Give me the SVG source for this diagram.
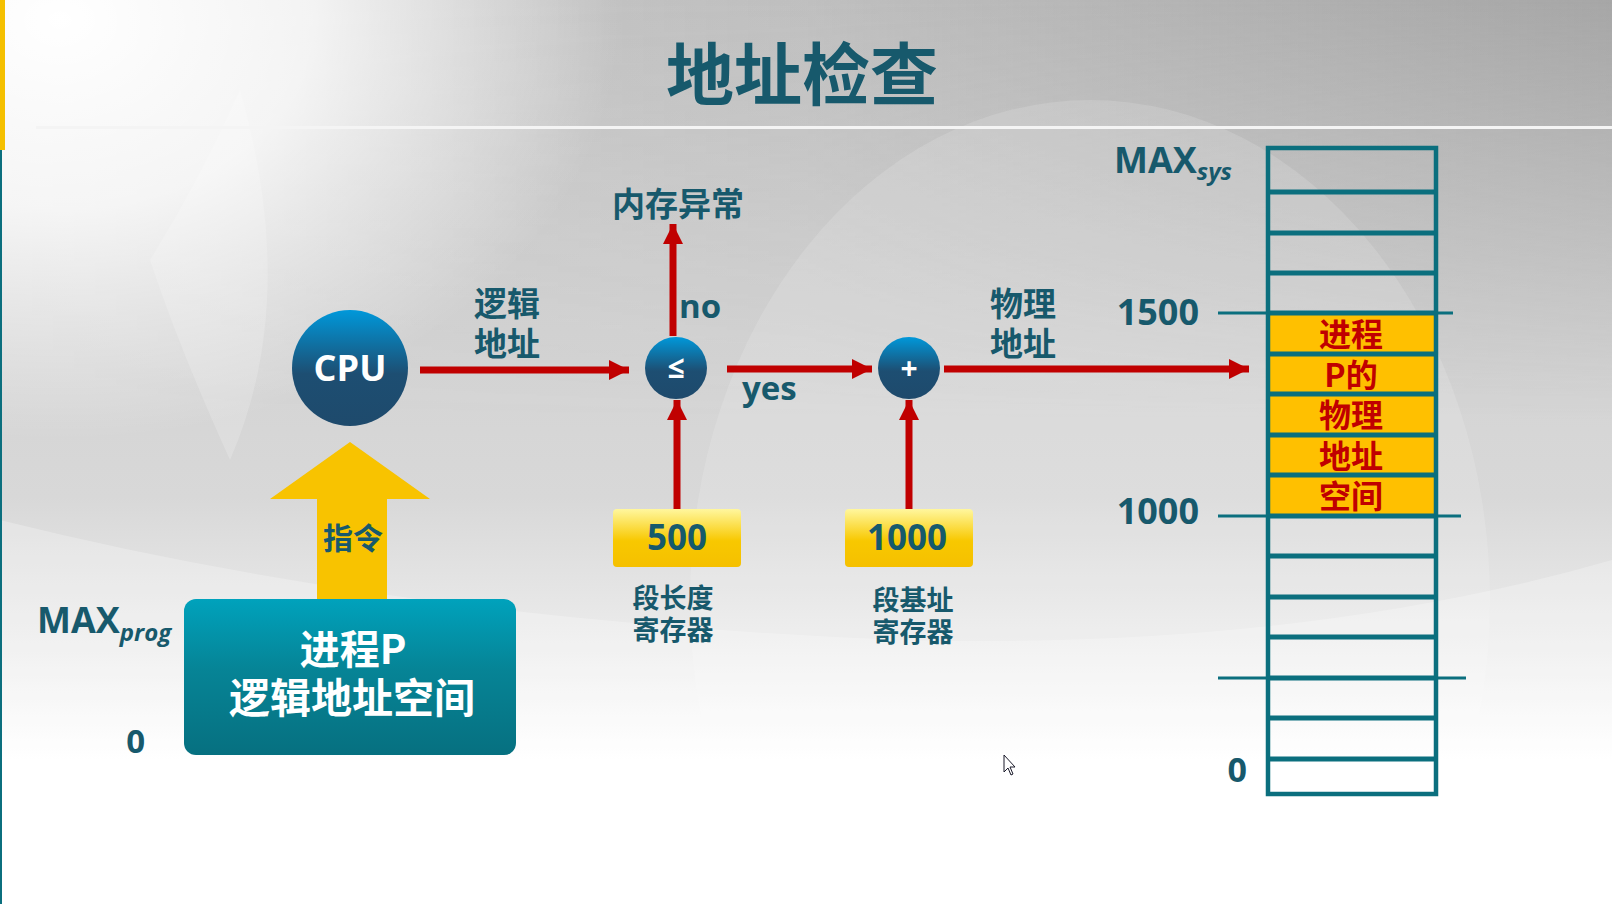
<svg xmlns="http://www.w3.org/2000/svg" width="1612" height="904" viewBox="0 0 1612 904">
<defs>
<linearGradient id="bgV" x1="0" y1="0" x2="0" y2="1">
<stop offset="0" stop-color="#c9c9c9"/>
<stop offset="0.55" stop-color="#d8d8d8"/>
<stop offset="0.72" stop-color="#ededed"/>
<stop offset="0.84" stop-color="#ffffff"/>
<stop offset="1" stop-color="#ffffff"/>
</linearGradient>
<radialGradient id="bgTL" cx="0" cy="0" r="1" gradientUnits="userSpaceOnUse" gradientTransform="translate(60 20) scale(560 420)">
<stop offset="0" stop-color="#ffffff" stop-opacity="1"/>
<stop offset="0.45" stop-color="#ffffff" stop-opacity="0.8"/>
<stop offset="1" stop-color="#ffffff" stop-opacity="0"/>
</radialGradient>
<linearGradient id="bgTR" x1="0" y1="0" x2="1" y2="0">
<stop offset="0" stop-color="#8a8a8a" stop-opacity="0"/>
<stop offset="0.5" stop-color="#8a8a8a" stop-opacity="0.15"/>
<stop offset="1" stop-color="#8a8a8a" stop-opacity="0.55"/>
</linearGradient>
<linearGradient id="bgTRv" x1="0" y1="0" x2="0" y2="1">
<stop offset="0" stop-color="#fff" stop-opacity="1"/>
<stop offset="1" stop-color="#fff" stop-opacity="0"/>
</linearGradient>
<mask id="topMask"><rect x="0" y="0" width="1612" height="420" fill="url(#bgTRv)"/></mask>
<linearGradient id="blueBall" x1="0" y1="0" x2="0" y2="1">
<stop offset="0" stop-color="#0098da"/>
<stop offset="0.55" stop-color="#1d4e72"/>
<stop offset="1" stop-color="#1e4a6c"/>
</linearGradient>
<linearGradient id="yellowBox" x1="0" y1="0" x2="0" y2="1">
<stop offset="0" stop-color="#fff79e"/>
<stop offset="0.55" stop-color="#f8c800"/>
<stop offset="1" stop-color="#f5c000"/>
</linearGradient>
<linearGradient id="tealBox" x1="0" y1="0" x2="0" y2="1">
<stop offset="0" stop-color="#00a2bc"/>
<stop offset="0.45" stop-color="#068496"/>
<stop offset="1" stop-color="#067080"/>
</linearGradient>
<marker id="ah" viewBox="0 0 20 20" refX="20" refY="10" markerWidth="20" markerHeight="20" markerUnits="userSpaceOnUse" orient="auto">
<path d="M0,0 L20,10 L0,20 Z" fill="#c00000"/>
</marker>
<style>
.lbl{font-family:"Open Sans","Noto Sans CJK SC","Noto Sans",sans-serif;font-weight:bold;fill:#17596c;}
.cjk{font-family:"Noto Sans CJK SC","Open Sans",sans-serif;font-weight:bold;fill:#17596c;}
.white{fill:#ffffff;}
.red{fill:#c00000;}
.conn{stroke:#c00000;stroke-width:7;fill:none;marker-end:url(#ah);}
.row{stroke:#0b6f7e;stroke-width:5;}
.ext{stroke:#0b6f7e;stroke-width:3;}
.cell{fill:#ffc000;}
</style>
</defs>

<!-- background -->
<g id="background">
<rect x="0" y="0" width="1612" height="904" fill="url(#bgV)"/>
<rect x="0" y="0" width="1612" height="420" fill="url(#bgTR)" mask="url(#topMask)"/>
<ellipse cx="1090" cy="600" rx="400" ry="500" fill="#ffffff" opacity="0.14"/>
<path d="M0,520 Q400,620 900,640 Q1300,650 1612,560 L1612,904 L0,904 Z" fill="#ffffff" opacity="0.25"/>
<path d="M240,90 Q300,300 230,460 Q180,350 150,260 Q200,180 240,90 Z" fill="#ffffff" opacity="0.18"/>
<rect x="0" y="0" width="1612" height="904" fill="url(#bgTL)"/>
<rect x="0" y="0" width="5" height="150" fill="#f5c000"/>
<rect x="0" y="150" width="2" height="754" fill="#0b6f7e"/>
<rect x="36" y="126" width="1576" height="3" fill="#f4f4f4"/>
</g>

<text x="802" y="100" class="cjk" font-size="68" text-anchor="middle" fill="#145a6b">地址检查</text>

<!-- connectors -->
<g id="connectors">
<line x1="420" y1="370" x2="629" y2="370" class="conn"/>
<line x1="673" y1="336" x2="673" y2="224" class="conn"/>
<line x1="727" y1="369" x2="872" y2="369" class="conn"/>
<line x1="677" y1="512" x2="677" y2="400" class="conn"/>
<line x1="909" y1="512" x2="909" y2="400" class="conn"/>
<line x1="944" y1="369" x2="1249" y2="369" class="conn"/>
</g>

<!-- CPU -->
<g id="cpu">
<circle cx="350" cy="368" r="58" fill="url(#blueBall)"/>
<text x="350" y="381" class="lbl white" font-size="36" text-anchor="middle">CPU</text>
</g>

<!-- compare -->
<g id="compare">
<circle cx="676" cy="368" r="31" fill="url(#blueBall)"/>
<text x="676" y="378" class="lbl white" font-size="30" text-anchor="middle">≤</text>
</g>

<!-- adder -->
<g id="adder">
<circle cx="909" cy="368" r="31" fill="url(#blueBall)"/>
<text x="909" y="379" class="lbl white" font-size="30" text-anchor="middle">+</text>
</g>

<g id="label-logical">
<text x="507" y="316" class="cjk" font-size="33" text-anchor="middle">逻辑</text>
<text x="507" y="356" class="cjk" font-size="33" text-anchor="middle">地址</text>
</g>
<g id="label-physical">
<text x="1023" y="316" class="cjk" font-size="33" text-anchor="middle">物理</text>
<text x="1023" y="356" class="cjk" font-size="33" text-anchor="middle">地址</text>
</g>
<g id="exception">
<text x="678" y="216" class="cjk" font-size="33" text-anchor="middle">内存异常</text>
</g>
<g id="label-no"><text x="679" y="318" class="lbl" font-size="33">no</text></g>
<g id="label-yes"><text x="742" y="400" class="lbl" font-size="33">yes</text></g>

<!-- registers -->
<g id="reg-limit">
<rect x="613" y="509" width="128" height="58" rx="4" fill="url(#yellowBox)"/>
<text x="677" y="550" class="lbl" font-size="35" text-anchor="middle">500</text>
<text x="673" y="608" class="cjk" font-size="27" text-anchor="middle">段长度</text>
<text x="673" y="640" class="cjk" font-size="27" text-anchor="middle">寄存器</text>
</g>
<g id="reg-base">
<rect x="845" y="509" width="128" height="58" rx="4" fill="url(#yellowBox)"/>
<text x="907" y="550" class="lbl" font-size="35" text-anchor="middle">1000</text>
<text x="913" y="610" class="cjk" font-size="27" text-anchor="middle">段基址</text>
<text x="913" y="642" class="cjk" font-size="27" text-anchor="middle">寄存器</text>
</g>

<!-- instruction arrow -->
<g id="instruction">
<path d="M350,442 L430,499 L387,499 L387,600 L317,600 L317,499 L270,499 Z" fill="#f8c300"/>
<text x="353" y="549" class="cjk" font-size="30" text-anchor="middle">指令</text>
</g>

<!-- process logical space -->
<g id="process">
<rect x="184" y="599" width="332" height="156" rx="12" fill="url(#tealBox)"/>
<text x="353" y="664" class="cjk white" font-size="40" text-anchor="middle">进程P</text>
<text x="352" y="713" class="cjk white" font-size="41" text-anchor="middle">逻辑地址空间</text>
</g>
<g id="prog-labels">
<text x="37" y="633" class="lbl" font-size="36">MAX<tspan font-size="24" font-style="italic" dy="8">prog</tspan></text>
<text x="145" y="753" class="lbl" font-size="33" text-anchor="end">0</text>
</g>

<!-- physical memory -->
<g id="memory">
<rect x="1270" y="313" width="164" height="203" class="cell"/>
<line x1="1218" y1="313" x2="1453" y2="313" class="ext"/>
<line x1="1218" y1="516" x2="1461" y2="516" class="ext"/>
<line x1="1218" y1="678" x2="1466" y2="678" class="ext"/>
<line x1="1268" y1="192" x2="1436" y2="192" class="row"/>
<line x1="1268" y1="233" x2="1436" y2="233" class="row"/>
<line x1="1268" y1="273" x2="1436" y2="273" class="row"/>
<line x1="1268" y1="313" x2="1436" y2="313" class="row"/>
<line x1="1268" y1="354" x2="1436" y2="354" class="row"/>
<line x1="1268" y1="394" x2="1436" y2="394" class="row"/>
<line x1="1268" y1="435" x2="1436" y2="435" class="row"/>
<line x1="1268" y1="475" x2="1436" y2="475" class="row"/>
<line x1="1268" y1="516" x2="1436" y2="516" class="row"/>
<line x1="1268" y1="556" x2="1436" y2="556" class="row"/>
<line x1="1268" y1="597" x2="1436" y2="597" class="row"/>
<line x1="1268" y1="637" x2="1436" y2="637" class="row"/>
<line x1="1268" y1="678" x2="1436" y2="678" class="row"/>
<line x1="1268" y1="718" x2="1436" y2="718" class="row"/>
<line x1="1268" y1="759" x2="1436" y2="759" class="row"/>
<rect x="1268" y="148" width="168" height="646" fill="none" stroke="#0b6f7e" stroke-width="4.5"/>
<text x="1351" y="346" class="cjk red" font-size="32" text-anchor="middle">进程</text>
<text x="1351" y="387" class="cjk red" font-size="32" text-anchor="middle">P的</text>
<text x="1351" y="427" class="cjk red" font-size="32" text-anchor="middle">物理</text>
<text x="1351" y="468" class="cjk red" font-size="32" text-anchor="middle">地址</text>
<text x="1351" y="508" class="cjk red" font-size="32" text-anchor="middle">空间</text>
</g>
<g id="sys-labels">
<text x="1114" y="173" class="lbl" font-size="36">MAX<tspan font-size="24" font-style="italic" dy="7">sys</tspan></text>
<text x="1199" y="325" class="lbl" font-size="36" text-anchor="end">1500</text>
<text x="1199" y="524" class="lbl" font-size="36" text-anchor="end">1000</text>
<text x="1247" y="782" class="lbl" font-size="34" text-anchor="end">0</text>
</g>

<!-- cursor -->
<g id="cursor">
<path d="M1004,755 L1004,772 L1008,768 L1011,775 L1013,774 L1010,767 L1015,767 Z" fill="#ffffff" stroke="#1a1a2a" stroke-width="1"/>
</g>
</svg>
